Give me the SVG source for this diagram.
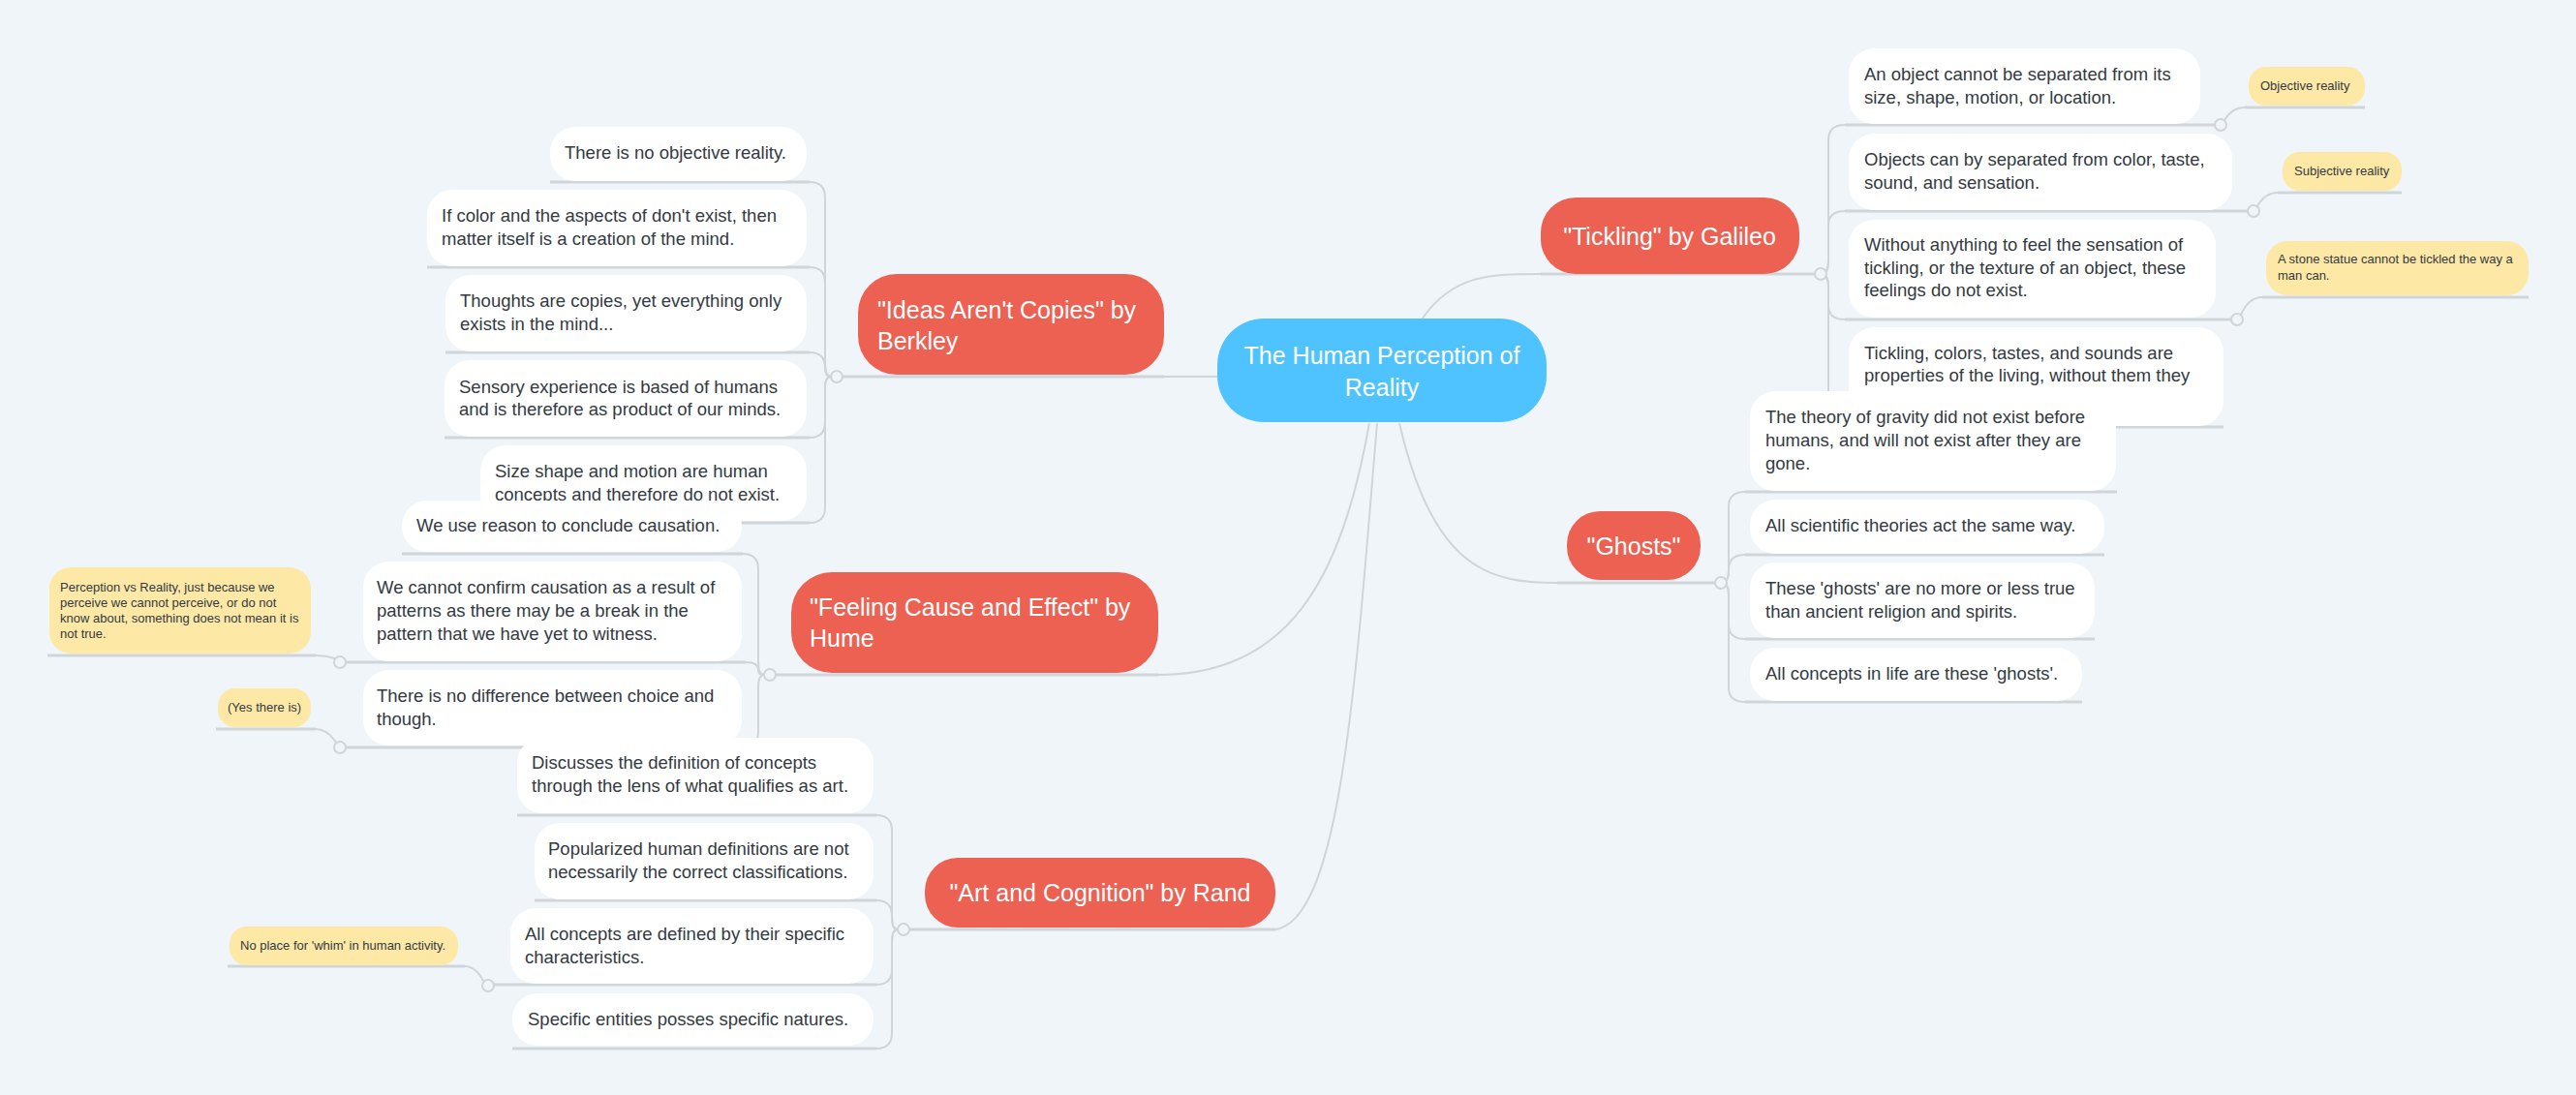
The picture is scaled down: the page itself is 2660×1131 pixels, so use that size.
<svg xmlns="http://www.w3.org/2000/svg" width="2660" height="1131" viewBox="0 0 2660 1131">
<style>
.c{fill:none;stroke:#cfd5d9;stroke-width:2}
.u{fill:none;stroke:#cfd5d9;stroke-width:3}
.k{fill:#eff5f8;stroke:#cfd5d9;stroke-width:2}
.n{fill:#fff}
.t{fill:#ec6152}
.y{fill:#fde8a6}
text{font-family:"Liberation Sans",Arial,sans-serif;fill:#333a42}
.b{font-size:18.5px}
.s{font-size:13px}
.w{fill:#fff;font-size:25px}
</style>
<rect width="2660" height="1131" fill="#eff5f8"/>
<g id="connectors">
<path class="c" d="M1468,330 C1500,283 1540,283 1591,283"/>
<path class="u" d="M1591,283 L1874,283"/>
<path class="c" d="M1880,283 Q1888,283 1888,270 L1888,145 Q1888,129 1905,129"/>
<path class="c" d="M1880,283 Q1888,283 1888,270 L1888,233 Q1888,218 1905,218"/>
<path class="c" d="M1880,283 Q1888,283 1888,296 L1888,315 Q1888,330 1905,330"/>
<path class="c" d="M1880,283 Q1888,283 1888,296 L1888,425 Q1888,441 1905,441"/>
<path class="u" d="M1905,129 L2287,129 M1905,218 L2321,218 M1905,330 L2304,330 M1905,441 L2296,441"/>
<path class="c" d="M2297,124 Q2305,111 2318,111"/><path class="u" d="M2318,111 L2442,111"/>
<path class="c" d="M2331,213 Q2339,199 2352,199"/><path class="u" d="M2352,199 L2480,199"/>
<path class="c" d="M2314,325 Q2322,307 2336,307"/><path class="u" d="M2336,307 L2611,307"/>
<circle class="k" cx="1880" cy="283" r="6"/><circle class="k" cx="2293" cy="129" r="6"/><circle class="k" cx="2327" cy="218" r="6"/><circle class="k" cx="2310" cy="330" r="6"/>
<path class="c" d="M1445,437 C1480,590 1540,602 1608,602"/>
<path class="u" d="M1608,602 L1771,602"/>
<path class="c" d="M1777,602 Q1785,602 1785,590 L1785,523 Q1785,508 1802,508"/>
<path class="c" d="M1777,602 Q1785,602 1785,590 L1785,588 Q1785,573 1802,573"/>
<path class="c" d="M1777,602 Q1785,602 1785,614 L1785,645 Q1785,660 1802,660"/>
<path class="c" d="M1777,602 Q1785,602 1785,614 L1785,710 Q1785,725 1802,725"/>
<path class="u" d="M1802,508 L2186,508 M1802,573 L2173,573 M1802,660 L2163,660 M1802,725 L2150,725"/>
<circle class="k" cx="1777" cy="602" r="6"/>
<path class="c" d="M1257,389 L1202,389"/>
<path class="u" d="M1202,389 L870,389"/>
<path class="c" d="M858,389 Q852,389 852,376 L852,204 Q852,188 836,188"/>
<path class="c" d="M858,389 Q852,389 852,376 L852,292 Q852,276 836,276"/>
<path class="c" d="M858,389 Q852,389 852,380 Q852,364 836,364"/>
<path class="c" d="M858,389 Q852,389 852,400 L852,436 Q852,452 836,452"/>
<path class="c" d="M858,389 Q852,389 852,400 L852,524 Q852,540 836,540"/>
<path class="u" d="M836,188 L568,188 M836,276 L441,276 M836,364 L460,364 M836,452 L459,452 M836,540 L496,540"/>
<circle class="k" cx="864" cy="389" r="6"/>
<path class="c" d="M1196,697 C1330,697 1385,600 1414,437"/>
<path class="u" d="M1196,697 L801,697"/>
<path class="c" d="M789,697 Q783,697 783,684 L783,588 Q783,572 767,572"/>
<path class="c" d="M789,697 Q783,697 783,692 Q783,684 770,684"/>
<path class="c" d="M789,697 Q783,697 783,710 L783,756 Q783,772 767,772"/>
<path class="u" d="M767,572 L415,572 M770,684 L357,684 M767,772 L357,772"/>
<path class="c" d="M346,680 Q336,677 326,677"/><path class="u" d="M326,677 L49,677"/>
<path class="c" d="M347,767 Q338,753 326,753"/><path class="u" d="M326,753 L223,753"/>
<circle class="k" cx="795" cy="697" r="6"/><circle class="k" cx="351" cy="684" r="6"/><circle class="k" cx="351" cy="772" r="6"/>
<path class="c" d="M1317,960 C1385,950 1400,700 1422,437"/>
<path class="u" d="M1317,960 L939,960"/>
<path class="c" d="M927,960 Q921,960 921,947 L921,858 Q921,842 905,842"/>
<path class="c" d="M927,960 Q921,960 921,947 L921,946 Q921,930 905,930"/>
<path class="c" d="M927,960 Q921,960 921,973 L921,1001 Q921,1017 905,1017"/>
<path class="c" d="M927,960 Q921,960 921,973 L921,1067 Q921,1083 905,1083"/>
<path class="u" d="M905,842 L534,842 M905,930 L552,930 M905,1017 L510,1017 M905,1083 L529,1083"/>
<path class="c" d="M499,1013 Q491,998 480,998"/><path class="u" d="M480,998 L235,998"/>
<circle class="k" cx="933" cy="960" r="6"/><circle class="k" cx="504" cy="1018" r="6"/>
</g>
<g id="central"><rect x="1257" y="329" width="340" height="107" rx="48" fill="#4fc3ff"/><text class="w" text-anchor="middle" x="1427" y="376">The Human Perception of</text><text class="w" text-anchor="middle" x="1427" y="409">Reality</text></g>
<g id="galileo"><rect class="t" x="1591" y="204" width="267" height="79" rx="36"/><text class="w" text-anchor="middle" x="1724" y="253" font-size="24">"Tickling" by Galileo</text></g>
<g id="ga1"><rect class="n" x="1909" y="50" width="363" height="78" rx="26"/><text class="b" x="1925" y="83">An object cannot be separated from its</text><text class="b" x="1925" y="107">size, shape, motion, or location.</text></g>
<g id="ga2"><rect class="n" x="1909" y="138" width="396" height="79" rx="26"/><text class="b" x="1925" y="171">Objects can by separated from color, taste,</text><text class="b" x="1925" y="195">sound, and sensation.</text></g>
<g id="ga3"><rect class="n" x="1909" y="227" width="379" height="101" rx="26"/><text class="b" x="1925" y="259">Without anything to feel the sensation of</text><text class="b" x="1925" y="283">tickling, or the texture of an object, these</text><text class="b" x="1925" y="306">feelings do not exist.</text></g>
<g id="ga4"><rect class="n" x="1909" y="338" width="387" height="102" rx="26"/><text class="b" x="1925" y="371">Tickling, colors, tastes, and sounds are</text><text class="b" x="1925" y="394">properties of the living, without them they</text></g>
<g id="n1"><rect class="y" x="2322" y="69" width="120" height="40" rx="18"/><text class="s" x="2334" y="93">Objective reality</text></g>
<g id="n2"><rect class="y" x="2357" y="157" width="123" height="40" rx="18"/><text class="s" x="2369" y="181">Subjective reality</text></g>
<g id="n3"><rect class="y" x="2340" y="249" width="271" height="56" rx="22"/><text class="s" x="2352" y="272">A stone statue cannot be tickled the way a</text><text class="s" x="2352" y="289">man can.</text></g>
<g id="ghosts"><rect class="t" x="1618" y="528" width="138" height="71" rx="34"/><text class="w" text-anchor="middle" x="1687" y="573" font-size="24">"Ghosts"</text></g>
<g id="gh1"><rect class="n" x="1807" y="404" width="378" height="103" rx="26"/><text class="b" x="1823" y="437">The theory of gravity did not exist before</text><text class="b" x="1823" y="461">humans, and will not exist after they are</text><text class="b" x="1823" y="485">gone.</text></g>
<g id="gh2"><rect class="n" x="1807" y="516" width="366" height="56" rx="26"/><text class="b" x="1823" y="549">All scientific theories act the same way.</text></g>
<g id="gh3"><rect class="n" x="1807" y="581" width="356" height="78" rx="26"/><text class="b" x="1823" y="614">These 'ghosts' are no more or less true</text><text class="b" x="1823" y="638">than ancient religion and spirits.</text></g>
<g id="gh4"><rect class="n" x="1807" y="669" width="343" height="55" rx="26"/><text class="b" x="1823" y="702">All concepts in life are these 'ghosts'.</text></g>
<g id="berkley"><rect class="t" x="886" y="283" width="316" height="104" rx="40"/><text class="w" x="906" y="329" font-size="24">"Ideas Aren't Copies" by</text><text class="w" x="906" y="361" font-size="24">Berkley</text></g>
<g id="be1"><rect class="n" x="568" y="131" width="265" height="56" rx="26"/><text class="b" x="583" y="164">There is no objective reality.</text></g>
<g id="be2"><rect class="n" x="441" y="196" width="392" height="79" rx="26"/><text class="b" x="456" y="229">If color and the aspects of don't exist, then</text><text class="b" x="456" y="253">matter itself is a creation of the mind.</text></g>
<g id="be3"><rect class="n" x="460" y="284" width="373" height="79" rx="26"/><text class="b" x="475" y="317">Thoughts are copies, yet everything only</text><text class="b" x="475" y="341">exists in the mind...</text></g>
<g id="be4"><rect class="n" x="459" y="372" width="374" height="79" rx="26"/><text class="b" x="474" y="406">Sensory experience is based of humans</text><text class="b" x="474" y="429">and is therefore as product of our minds.</text></g>
<g id="be5"><rect class="n" x="496" y="460" width="337" height="78" rx="26"/><text class="b" x="511" y="493">Size shape and motion are human</text><text class="b" x="511" y="517">concepts and therefore do not exist.</text></g>
<g id="hume"><rect class="t" x="817" y="591" width="379" height="104" rx="42"/><text class="w" x="836" y="636" font-size="24">"Feeling Cause and Effect" by</text><text class="w" x="836" y="668" font-size="24">Hume</text></g>
<g id="hu1"><rect class="n" x="415" y="517" width="351" height="53" rx="26"/><text class="b" x="430" y="549">We use reason to conclude causation.</text></g>
<g id="hu2"><rect class="n" x="375" y="580" width="391" height="103" rx="26"/><text class="b" x="389" y="613">We cannot confirm causation as a result of</text><text class="b" x="389" y="637">patterns as there may be a break in the</text><text class="b" x="389" y="661">pattern that we have yet to witness.</text></g>
<g id="hu3"><rect class="n" x="375" y="692" width="391" height="78" rx="26"/><text class="b" x="389" y="725">There is no difference between choice and</text><text class="b" x="389" y="749">though.</text></g>
<g id="n4"><rect class="y" x="51" y="586" width="270" height="89" rx="22"/><text class="s" x="62" y="611">Perception vs Reality, just because we</text><text class="s" x="62" y="627">perceive we cannot perceive, or do not</text><text class="s" x="62" y="643">know about, something does not mean it is</text><text class="s" x="62" y="659">not true.</text></g>
<g id="n5"><rect class="y" x="225" y="711" width="96" height="40" rx="18"/><text class="s" x="235" y="735">(Yes there is)</text></g>
<g id="rand"><rect class="t" x="955" y="886" width="362" height="72" rx="34"/><text class="w" text-anchor="middle" x="1136" y="931" font-size="24">"Art and Cognition" by Rand</text></g>
<g id="ra1"><rect class="n" x="534" y="762" width="368" height="78" rx="26"/><text class="b" x="549" y="794">Discusses the definition of concepts</text><text class="b" x="549" y="818">through the lens of what qualifies as art.</text></g>
<g id="ra2"><rect class="n" x="552" y="850" width="350" height="79" rx="26"/><text class="b" x="566" y="883">Popularized human definitions are not</text><text class="b" x="566" y="907">necessarily the correct classifications.</text></g>
<g id="ra3"><rect class="n" x="527" y="938" width="375" height="78" rx="26"/><text class="b" x="542" y="971">All concepts are defined by their specific</text><text class="b" x="542" y="995">characteristics.</text></g>
<g id="ra4"><rect class="n" x="529" y="1026" width="373" height="54" rx="26"/><text class="b" x="545" y="1059">Specific entities posses specific natures.</text></g>
<g id="n6"><rect class="y" x="237" y="957" width="236" height="40" rx="18"/><text class="s" x="248" y="981">No place for 'whim' in human activity.</text></g>
</svg>
